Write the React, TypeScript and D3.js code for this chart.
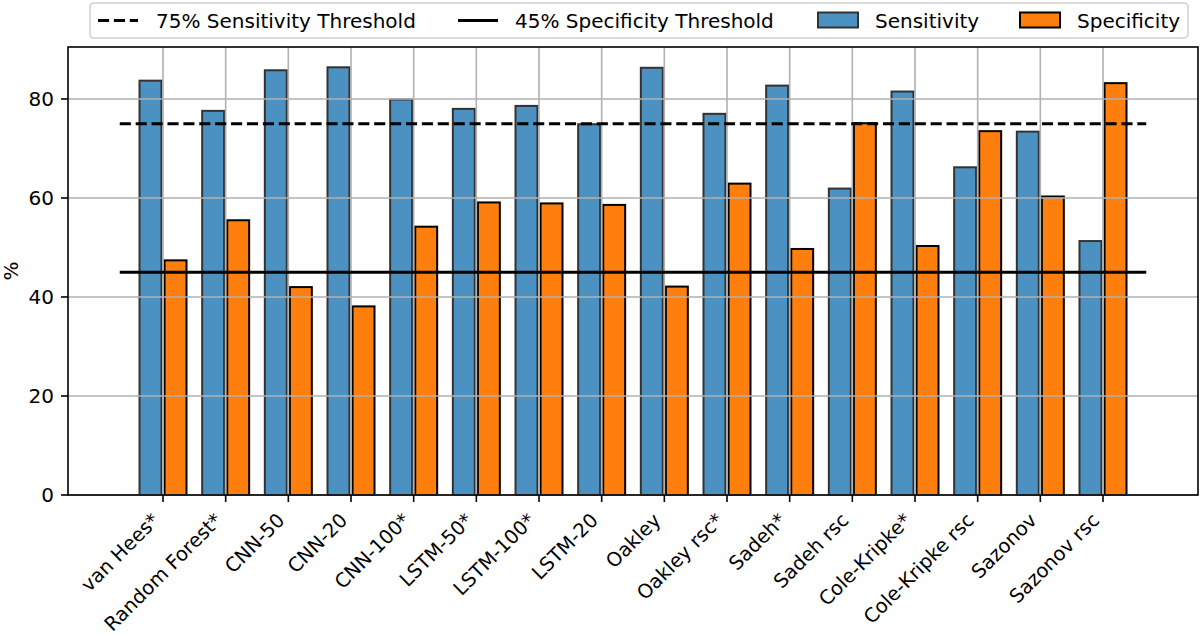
import React from "react";
import * as d3 from "d3";

const categories = [
  "van Hees*", "Random Forest*", "CNN-50", "CNN-20", "CNN-100*", "LSTM-50*",
  "LSTM-100*", "LSTM-20", "Oakley", "Oakley rsc*", "Sadeh*", "Sadeh rsc",
  "Cole-Kripke*", "Cole-Kripke rsc", "Sazonov", "Sazonov rsc",
];
const sensitivity = [83.7, 77.6, 85.8, 86.4, 79.9, 78.0, 78.6, 74.9, 86.3, 77.0, 82.7, 61.9, 81.5, 66.2, 73.4, 51.3];
const specificity = [47.4, 55.5, 42.0, 38.1, 54.2, 59.1, 58.9, 58.6, 42.1, 62.9, 49.7, 75.1, 50.3, 73.5, 60.3, 83.2];
const yTicks = [0, 20, 40, 60, 80];
const sensThreshold = 75;
const specThreshold = 45;
const legendLabels = ["75% Sensitivity Threshold", "45% Specificity Threshold", "Sensitivity", "Specificity"];

const W = 1200, H = 635;
const left = 68, right = 1198, top = 47, bottom = 495;
const FONT = "DejaVu Sans";
const FS = 20;
const XFS = 19.5;
const BLUE = "#1f77b4";
const ORANGE = "#ff7f0e";
const GRID = "#b0b0b0";

export default function App() {
  const n = categories.length;
  const pad = 1.516;
  const x = d3.scaleLinear().domain([-pad, n - 1 + pad]).range([left, right]);
  const y = d3.scaleLinear().domain([0, 90.5]).range([bottom, top]);
  const bw = 0.35;
  const lineX0 = x(-0.69), lineX1 = x(n - 1 + 0.69);

  return (
    <svg width={W} height={H} style={{ position: "absolute", left: 0, top: 0 }} fontFamily={FONT}>
      <rect x={0} y={0} width={W} height={H} fill="white" />
      {/* bars */}
      {categories.map((c, i) => (
        <g key={c}>
          <rect x={x(i - 0.375)} y={y(sensitivity[i])} width={x(bw) - x(0)} height={y(0) - y(sensitivity[i])}
            fill={BLUE} stroke="black" strokeWidth={2} opacity={0.8} />
          <rect x={x(i + 0.025)} y={y(specificity[i])} width={x(bw) - x(0)} height={y(0) - y(specificity[i])}
            fill={ORANGE} stroke="black" strokeWidth={2} />
        </g>
      ))}
      {/* grid */}
      {categories.map((c, i) => (
        <line key={"gx" + c} x1={x(i)} x2={x(i)} y1={top} y2={bottom} stroke={GRID} strokeWidth={1.6} />
      ))}
      {yTicks.map((t) => (
        <line key={"gy" + t} x1={left} x2={right} y1={y(t)} y2={y(t)} stroke={GRID} strokeWidth={1.6} />
      ))}
      {/* thresholds */}
      <line x1={lineX0} x2={lineX1} y1={y(sensThreshold)} y2={y(sensThreshold)} stroke="black" strokeWidth={3} strokeDasharray="11.1,4.8" />
      <line x1={lineX0} x2={lineX1} y1={y(specThreshold)} y2={y(specThreshold)} stroke="black" strokeWidth={3} />
      {/* spines */}
      <rect x={left} y={top} width={right - left} height={bottom - top} fill="none" stroke="black" strokeWidth={1.6} />
      {/* y ticks */}
      {yTicks.map((t) => (
        <g key={"ty" + t}>
          <line x1={left - 7} x2={left} y1={y(t)} y2={y(t)} stroke="black" strokeWidth={1.6} />
          <text x={left - 14} y={y(t) + 7} fontSize={FS} textAnchor="end" fill="black">{t}</text>
        </g>
      ))}
      {/* x ticks */}
      {categories.map((c, i) => (
        <g key={"tx" + c}>
          <line x1={x(i)} x2={x(i)} y1={bottom} y2={bottom + 7} stroke="black" strokeWidth={1.6} />
          <text transform={`translate(${x(i) - 2.5},${bottom + 26.5}) rotate(-45)`} fontSize={XFS} textAnchor="end" fill="black">{c}</text>
        </g>
      ))}
      {/* y label */}
      <text transform={`translate(18,${(top + bottom) / 2}) rotate(-90)`} fontSize={FS} textAnchor="middle" fill="black">%</text>
      {/* legend */}
      <rect x={90} y={3} width={1098} height={35} rx={4} fill="white" stroke="#cccccc" strokeWidth={1.6} opacity={0.9} />
      <line x1={98} x2={138} y1={20.5} y2={20.5} stroke="black" strokeWidth={3} strokeDasharray="11.1,4.8" />
      <text x={156} y={27.5} fontSize={FS} fill="black">{legendLabels[0]}</text>
      <line x1={458} x2={498} y1={20.5} y2={20.5} stroke="black" strokeWidth={3} />
      <text x={515} y={27.5} fontSize={FS} fill="black">{legendLabels[1]}</text>
      <rect x={818} y={12.5} width={40} height={15} fill={BLUE} stroke="black" strokeWidth={2} opacity={0.8} />
      <text x={875} y={27.5} fontSize={FS} fill="black">{legendLabels[2]}</text>
      <rect x={1020} y={12.5} width={40} height={15} fill={ORANGE} stroke="black" strokeWidth={2} />
      <text x={1077} y={27.5} fontSize={FS} fill="black">{legendLabels[3]}</text>
    </svg>
  );
}
